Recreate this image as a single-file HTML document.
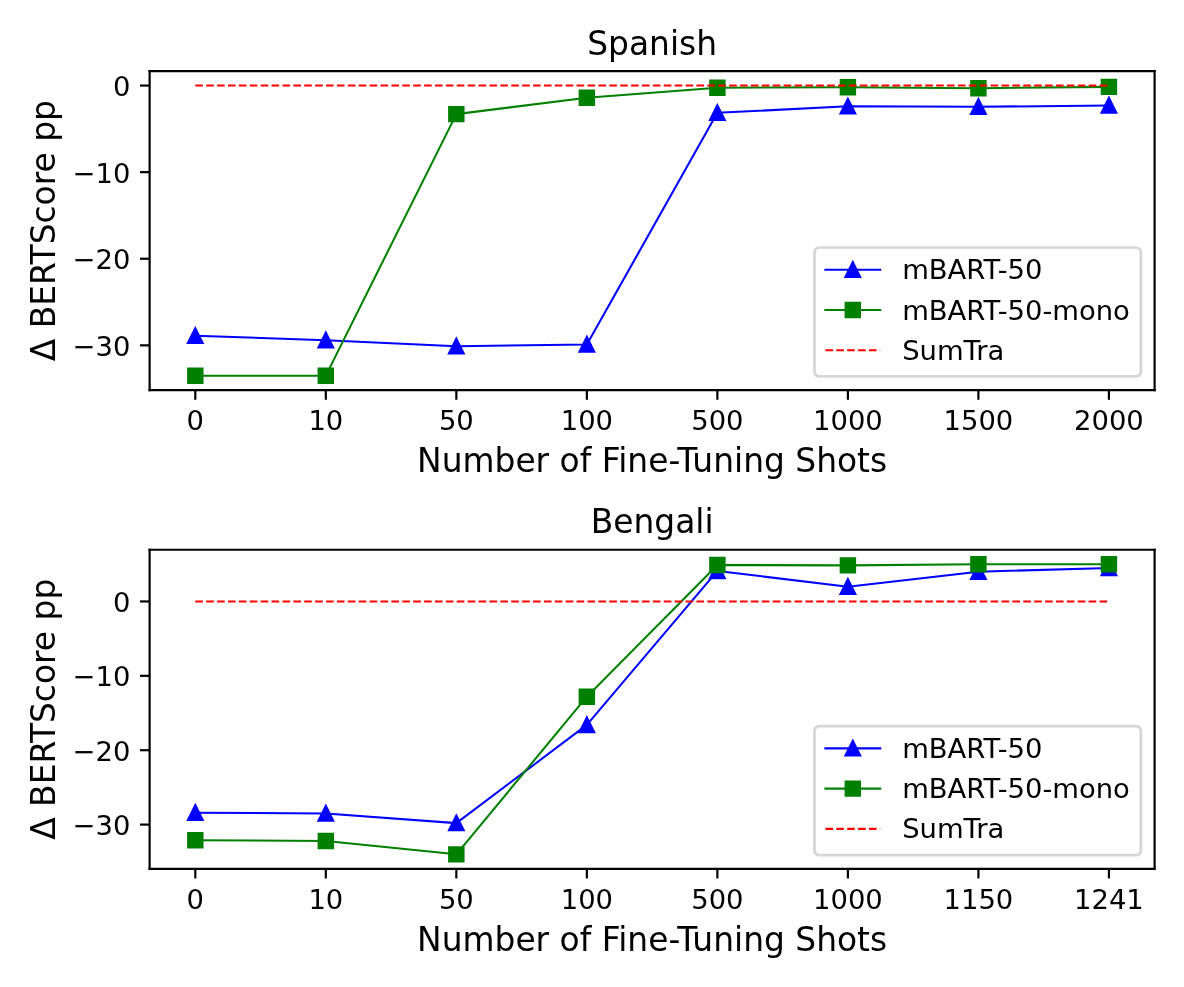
<!DOCTYPE html>
<html><head><meta charset="utf-8"><title>Fine-Tuning Shots</title>
<style>
html,body{margin:0;padding:0;background:#fff;}
body{width:1184px;height:987px;overflow:hidden;font-family:"DejaVu Sans","Liberation Sans",sans-serif;}
svg{display:block;}
svg text{font-family:"DejaVu Sans","Liberation Sans",sans-serif;}
</style></head><body>
<svg width="1184" height="987" preserveAspectRatio="none" viewBox="0 0 432 360" version="1.1">
 <defs>
  <style type="text/css">*{stroke-linejoin: round; stroke-linecap: butt}</style>
 </defs>
 <g id="figure_1" transform="translate(0.073 0)">
  <g id="patch_1">
   <path d="M 0 360 
L 432 360 
L 432 0 
L 0 0 
z
" style="fill: #ffffff"/>
  </g>
  <g id="axes_1">
   <g id="patch_2">
    <path d="M 54.518437 142.308125 
L 421.2 142.308125 
L 421.2 25.918125 
L 54.518437 25.918125 
z
" style="fill: #ffffff"/>
   </g>
   <g id="matplotlib.axis_1">
    <g id="xtick_1">
     <g id="line2d_1">
      <defs>
       <path id="m48aea42e91" d="M 0 0 
L 0 3.5 
" style="stroke: #000000; stroke-width: 0.8"/>
      </defs>
      <g>
       <use href="#m48aea42e91" x="71.185781" y="142.308125" style="stroke: #000000; stroke-width: 0.8"/>
      </g>
     </g>
     <g id="text_1">
      <text style="font-size: 10px; font-family: 'DejaVu Sans', 'Liberation Sans', sans-serif; text-anchor: middle" x="71.185781" y="156.906563">0</text>
     </g>
    </g>
    <g id="xtick_2">
     <g id="line2d_2">
      <g>
       <use href="#m48aea42e91" x="118.806763" y="142.308125" style="stroke: #000000; stroke-width: 0.8"/>
      </g>
     </g>
     <g id="text_2">
      <text style="font-size: 10px; font-family: 'DejaVu Sans', 'Liberation Sans', sans-serif; text-anchor: middle" x="118.806763" y="156.906563">10</text>
     </g>
    </g>
    <g id="xtick_3">
     <g id="line2d_3">
      <g>
       <use href="#m48aea42e91" x="166.427746" y="142.308125" style="stroke: #000000; stroke-width: 0.8"/>
      </g>
     </g>
     <g id="text_3">
      <text style="font-size: 10px; font-family: 'DejaVu Sans', 'Liberation Sans', sans-serif; text-anchor: middle" x="166.427746" y="156.906563">50</text>
     </g>
    </g>
    <g id="xtick_4">
     <g id="line2d_4">
      <g>
       <use href="#m48aea42e91" x="214.048728" y="142.308125" style="stroke: #000000; stroke-width: 0.8"/>
      </g>
     </g>
     <g id="text_4">
      <text style="font-size: 10px; font-family: 'DejaVu Sans', 'Liberation Sans', sans-serif; text-anchor: middle" x="214.048728" y="156.906563">100</text>
     </g>
    </g>
    <g id="xtick_5">
     <g id="line2d_5">
      <g>
       <use href="#m48aea42e91" x="261.66971" y="142.308125" style="stroke: #000000; stroke-width: 0.8"/>
      </g>
     </g>
     <g id="text_5">
      <text style="font-size: 10px; font-family: 'DejaVu Sans', 'Liberation Sans', sans-serif; text-anchor: middle" x="261.66971" y="156.906563">500</text>
     </g>
    </g>
    <g id="xtick_6">
     <g id="line2d_6">
      <g>
       <use href="#m48aea42e91" x="309.290692" y="142.308125" style="stroke: #000000; stroke-width: 0.8"/>
      </g>
     </g>
     <g id="text_6">
      <text style="font-size: 10px; font-family: 'DejaVu Sans', 'Liberation Sans', sans-serif; text-anchor: middle" x="309.290692" y="156.906563">1000</text>
     </g>
    </g>
    <g id="xtick_7">
     <g id="line2d_7">
      <g>
       <use href="#m48aea42e91" x="356.911674" y="142.308125" style="stroke: #000000; stroke-width: 0.8"/>
      </g>
     </g>
     <g id="text_7">
      <text style="font-size: 10px; font-family: 'DejaVu Sans', 'Liberation Sans', sans-serif; text-anchor: middle" x="356.911674" y="156.906563">1500</text>
     </g>
    </g>
    <g id="xtick_8">
     <g id="line2d_8">
      <g>
       <use href="#m48aea42e91" x="404.532656" y="142.308125" style="stroke: #000000; stroke-width: 0.8"/>
      </g>
     </g>
     <g id="text_8">
      <text style="font-size: 10px; font-family: 'DejaVu Sans', 'Liberation Sans', sans-serif; text-anchor: middle" x="404.532656" y="156.906563">2000</text>
     </g>
    </g>
    <g id="text_9">
     <text style="font-size: 12px; font-family: 'DejaVu Sans', 'Liberation Sans', sans-serif; text-anchor: middle" x="237.859219" y="172.104375">Number of Fine-Tuning Shots</text>
    </g>
   </g>
   <g id="matplotlib.axis_2">
    <g id="ytick_1">
     <g id="line2d_9">
      <defs>
       <path id="me0df4f3717" d="M 0 0 
L -3.5 0 
" style="stroke: #000000; stroke-width: 0.8"/>
      </defs>
      <g>
       <use href="#me0df4f3717" x="54.518437" y="125.962989" style="stroke: #000000; stroke-width: 0.8"/>
      </g>
     </g>
     <g id="text_10">
      <text style="font-size: 10px; font-family: 'DejaVu Sans', 'Liberation Sans', sans-serif; text-anchor: end" x="47.518437" y="129.762208">−30</text>
     </g>
    </g>
    <g id="ytick_2">
     <g id="line2d_10">
      <g>
       <use href="#me0df4f3717" x="54.518437" y="94.378186" style="stroke: #000000; stroke-width: 0.8"/>
      </g>
     </g>
     <g id="text_11">
      <text style="font-size: 10px; font-family: 'DejaVu Sans', 'Liberation Sans', sans-serif; text-anchor: end" x="47.518437" y="98.177405">−20</text>
     </g>
    </g>
    <g id="ytick_3">
     <g id="line2d_11">
      <g>
       <use href="#me0df4f3717" x="54.518437" y="62.793383" style="stroke: #000000; stroke-width: 0.8"/>
      </g>
     </g>
     <g id="text_12">
      <text style="font-size: 10px; font-family: 'DejaVu Sans', 'Liberation Sans', sans-serif; text-anchor: end" x="47.518437" y="66.592602">−10</text>
     </g>
    </g>
    <g id="ytick_4">
     <g id="line2d_12">
      <g>
       <use href="#me0df4f3717" x="54.518437" y="31.20858" style="stroke: #000000; stroke-width: 0.8"/>
      </g>
     </g>
     <g id="text_13">
      <text style="font-size: 10px; font-family: 'DejaVu Sans', 'Liberation Sans', sans-serif; text-anchor: end" x="47.518437" y="35.007798">0</text>
     </g>
    </g>
    <g id="text_14">
     <text style="font-size: 12px; font-family: 'DejaVu Sans', 'Liberation Sans', sans-serif; text-anchor: middle" x="19.918125" y="84.113125" transform="rotate(-90 19.918125 84.113125)">Δ BERTScore pp</text>
    </g>
   </g>
   <g id="line2d_13">
    <path d="M 71.185781 122.488661 
L 118.806763 124.067901 
L 166.427746 126.278837 
L 214.048728 125.647141 
L 261.66971 41.157793 
L 309.290692 38.788932 
L 356.911674 38.946856 
L 404.532656 38.473084 
" style="fill: none; stroke: #0000ff; stroke-width: 0.75; stroke-linecap: square"/>
    <defs>
     <path id="m319e83b597" d="M 0 -2.5 
L -2.5 2.5 
L 2.5 2.5 
z
" style="stroke: #0000ff; stroke-linejoin: miter"/>
    </defs>
    <g>
     <use href="#m319e83b597" x="71.185781" y="122.488661" style="fill: #0000ff; stroke: #0000ff; stroke-linejoin: miter"/>
     <use href="#m319e83b597" x="118.806763" y="124.067901" style="fill: #0000ff; stroke: #0000ff; stroke-linejoin: miter"/>
     <use href="#m319e83b597" x="166.427746" y="126.278837" style="fill: #0000ff; stroke: #0000ff; stroke-linejoin: miter"/>
     <use href="#m319e83b597" x="214.048728" y="125.647141" style="fill: #0000ff; stroke: #0000ff; stroke-linejoin: miter"/>
     <use href="#m319e83b597" x="261.66971" y="41.157793" style="fill: #0000ff; stroke: #0000ff; stroke-linejoin: miter"/>
     <use href="#m319e83b597" x="309.290692" y="38.788932" style="fill: #0000ff; stroke: #0000ff; stroke-linejoin: miter"/>
     <use href="#m319e83b597" x="356.911674" y="38.946856" style="fill: #0000ff; stroke: #0000ff; stroke-linejoin: miter"/>
     <use href="#m319e83b597" x="404.532656" y="38.473084" style="fill: #0000ff; stroke: #0000ff; stroke-linejoin: miter"/>
    </g>
   </g>
   <g id="line2d_14">
    <path d="M 71.185781 137.01767 
L 118.806763 137.01767 
L 166.427746 41.631565 
L 214.048728 35.630452 
L 261.66971 31.9982 
L 309.290692 31.840276 
L 356.911674 32.156124 
L 404.532656 31.682352 
" style="fill: none; stroke: #008000; stroke-width: 0.75; stroke-linecap: square"/>
    <defs>
     <path id="ma105472f39" d="M -2.5 2.5 
L 2.5 2.5 
L 2.5 -2.5 
L -2.5 -2.5 
z
" style="stroke: #008000; stroke-linejoin: miter"/>
    </defs>
    <g>
     <use href="#ma105472f39" x="71.185781" y="137.01767" style="fill: #008000; stroke: #008000; stroke-linejoin: miter"/>
     <use href="#ma105472f39" x="118.806763" y="137.01767" style="fill: #008000; stroke: #008000; stroke-linejoin: miter"/>
     <use href="#ma105472f39" x="166.427746" y="41.631565" style="fill: #008000; stroke: #008000; stroke-linejoin: miter"/>
     <use href="#ma105472f39" x="214.048728" y="35.630452" style="fill: #008000; stroke: #008000; stroke-linejoin: miter"/>
     <use href="#ma105472f39" x="261.66971" y="31.9982" style="fill: #008000; stroke: #008000; stroke-linejoin: miter"/>
     <use href="#ma105472f39" x="309.290692" y="31.840276" style="fill: #008000; stroke: #008000; stroke-linejoin: miter"/>
     <use href="#ma105472f39" x="356.911674" y="32.156124" style="fill: #008000; stroke: #008000; stroke-linejoin: miter"/>
     <use href="#ma105472f39" x="404.532656" y="31.682352" style="fill: #008000; stroke: #008000; stroke-linejoin: miter"/>
    </g>
   </g>
   <g id="line2d_15">
    <path d="M 71.185781 31.20858 
L 118.806763 31.20858 
L 166.427746 31.20858 
L 214.048728 31.20858 
L 261.66971 31.20858 
L 309.290692 31.20858 
L 356.911674 31.20858 
L 404.532656 31.20858 
" style="fill: none; stroke-dasharray: 2.775,1.2; stroke-dashoffset: 0; stroke: #ff0000; stroke-width: 0.75"/>
   </g>
   <g id="patch_3">
    <path d="M 54.518437 142.308125 
L 54.518437 25.918125 
" style="fill: none; stroke: #000000; stroke-width: 0.8; stroke-linejoin: miter; stroke-linecap: square"/>
   </g>
   <g id="patch_4">
    <path d="M 421.2 142.308125 
L 421.2 25.918125 
" style="fill: none; stroke: #000000; stroke-width: 0.8; stroke-linejoin: miter; stroke-linecap: square"/>
   </g>
   <g id="patch_5">
    <path d="M 54.518437 142.308125 
L 421.2 142.308125 
" style="fill: none; stroke: #000000; stroke-width: 0.8; stroke-linejoin: miter; stroke-linecap: square"/>
   </g>
   <g id="patch_6">
    <path d="M 54.518437 25.918125 
L 421.2 25.918125 
" style="fill: none; stroke: #000000; stroke-width: 0.8; stroke-linejoin: miter; stroke-linecap: square"/>
   </g>
   <g id="text_15">
    <text style="font-size: 12px; font-family: 'DejaVu Sans', 'Liberation Sans', sans-serif; text-anchor: middle" x="237.859219" y="19.918125">Spanish</text>
   </g>
   <g id="legend_1">
    <g id="patch_7">
     <path d="M 299.082812 137.308125 
L 414.2 137.308125 
Q 416.2 137.308125 416.2 135.308125 
L 416.2 92.27375 
Q 416.2 90.27375 414.2 90.27375 
L 299.082812 90.27375 
Q 297.082812 90.27375 297.082812 92.27375 
L 297.082812 135.308125 
Q 297.082812 137.308125 299.082812 137.308125 
z
" style="fill: #ffffff; opacity: 0.8; stroke: #cccccc; stroke-linejoin: miter"/>
    </g>
    <g id="line2d_16">
     <path d="M 301.082812 98.372187 
L 311.082812 98.372187 
L 321.082812 98.372187 
" style="fill: none; stroke: #0000ff; stroke-width: 0.75; stroke-linecap: square"/>
     <g>
      <use href="#m319e83b597" x="311.082812" y="98.372187" style="fill: #0000ff; stroke: #0000ff; stroke-linejoin: miter"/>
     </g>
    </g>
    <g id="text_16">
     <text style="font-size: 10px; font-family: 'DejaVu Sans', 'Liberation Sans', sans-serif; text-anchor: start" x="329.082812" y="101.872187">mBART-50</text>
    </g>
    <g id="line2d_17">
     <path d="M 301.082812 113.050312 
L 311.082812 113.050312 
L 321.082812 113.050312 
" style="fill: none; stroke: #008000; stroke-width: 0.75; stroke-linecap: square"/>
     <g>
      <use href="#ma105472f39" x="311.082812" y="113.050312" style="fill: #008000; stroke: #008000; stroke-linejoin: miter"/>
     </g>
    </g>
    <g id="text_17">
     <text style="font-size: 10px; font-family: 'DejaVu Sans', 'Liberation Sans', sans-serif; text-anchor: start" x="329.082812" y="116.550312">mBART-50-mono</text>
    </g>
    <g id="line2d_18">
     <path d="M 301.082812 127.728437 
L 311.082812 127.728437 
L 321.082812 127.728437 
" style="fill: none; stroke-dasharray: 2.775,1.2; stroke-dashoffset: 0; stroke: #ff0000; stroke-width: 0.75"/>
    </g>
    <g id="text_18">
     <text style="font-size: 10px; font-family: 'DejaVu Sans', 'Liberation Sans', sans-serif; text-anchor: start" x="329.082812" y="131.228437">SumTra</text>
    </g>
   </g>
  </g>
  <g id="axes_2">
   <g id="patch_8">
    <path d="M 54.518437 316.908125 
L 421.2 316.908125 
L 421.2 200.518125 
L 54.518437 200.518125 
z
" style="fill: #ffffff"/>
   </g>
   <g id="matplotlib.axis_3">
    <g id="xtick_9">
     <g id="line2d_19">
      <g>
       <use href="#m48aea42e91" x="71.185781" y="316.908125" style="stroke: #000000; stroke-width: 0.8"/>
      </g>
     </g>
     <g id="text_19">
      <text style="font-size: 10px; font-family: 'DejaVu Sans', 'Liberation Sans', sans-serif; text-anchor: middle" x="71.185781" y="331.506562">0</text>
     </g>
    </g>
    <g id="xtick_10">
     <g id="line2d_20">
      <g>
       <use href="#m48aea42e91" x="118.806763" y="316.908125" style="stroke: #000000; stroke-width: 0.8"/>
      </g>
     </g>
     <g id="text_20">
      <text style="font-size: 10px; font-family: 'DejaVu Sans', 'Liberation Sans', sans-serif; text-anchor: middle" x="118.806763" y="331.506562">10</text>
     </g>
    </g>
    <g id="xtick_11">
     <g id="line2d_21">
      <g>
       <use href="#m48aea42e91" x="166.427746" y="316.908125" style="stroke: #000000; stroke-width: 0.8"/>
      </g>
     </g>
     <g id="text_21">
      <text style="font-size: 10px; font-family: 'DejaVu Sans', 'Liberation Sans', sans-serif; text-anchor: middle" x="166.427746" y="331.506562">50</text>
     </g>
    </g>
    <g id="xtick_12">
     <g id="line2d_22">
      <g>
       <use href="#m48aea42e91" x="214.048728" y="316.908125" style="stroke: #000000; stroke-width: 0.8"/>
      </g>
     </g>
     <g id="text_22">
      <text style="font-size: 10px; font-family: 'DejaVu Sans', 'Liberation Sans', sans-serif; text-anchor: middle" x="214.048728" y="331.506562">100</text>
     </g>
    </g>
    <g id="xtick_13">
     <g id="line2d_23">
      <g>
       <use href="#m48aea42e91" x="261.66971" y="316.908125" style="stroke: #000000; stroke-width: 0.8"/>
      </g>
     </g>
     <g id="text_23">
      <text style="font-size: 10px; font-family: 'DejaVu Sans', 'Liberation Sans', sans-serif; text-anchor: middle" x="261.66971" y="331.506562">500</text>
     </g>
    </g>
    <g id="xtick_14">
     <g id="line2d_24">
      <g>
       <use href="#m48aea42e91" x="309.290692" y="316.908125" style="stroke: #000000; stroke-width: 0.8"/>
      </g>
     </g>
     <g id="text_24">
      <text style="font-size: 10px; font-family: 'DejaVu Sans', 'Liberation Sans', sans-serif; text-anchor: middle" x="309.290692" y="331.506562">1000</text>
     </g>
    </g>
    <g id="xtick_15">
     <g id="line2d_25">
      <g>
       <use href="#m48aea42e91" x="356.911674" y="316.908125" style="stroke: #000000; stroke-width: 0.8"/>
      </g>
     </g>
     <g id="text_25">
      <text style="font-size: 10px; font-family: 'DejaVu Sans', 'Liberation Sans', sans-serif; text-anchor: middle" x="356.911674" y="331.506562">1150</text>
     </g>
    </g>
    <g id="xtick_16">
     <g id="line2d_26">
      <g>
       <use href="#m48aea42e91" x="404.532656" y="316.908125" style="stroke: #000000; stroke-width: 0.8"/>
      </g>
     </g>
     <g id="text_26">
      <text style="font-size: 10px; font-family: 'DejaVu Sans', 'Liberation Sans', sans-serif; text-anchor: middle" x="404.532656" y="331.506562">1241</text>
     </g>
    </g>
    <g id="text_27">
     <text style="font-size: 12px; font-family: 'DejaVu Sans', 'Liberation Sans', sans-serif; text-anchor: middle" x="237.859219" y="346.704375">Number of Fine-Tuning Shots</text>
    </g>
   </g>
   <g id="matplotlib.axis_4">
    <g id="ytick_5">
     <g id="line2d_27">
      <g>
       <use href="#me0df4f3717" x="54.518437" y="300.765456" style="stroke: #000000; stroke-width: 0.8"/>
      </g>
     </g>
     <g id="text_28">
      <text style="font-size: 10px; font-family: 'DejaVu Sans', 'Liberation Sans', sans-serif; text-anchor: end" x="47.518437" y="304.564675">−30</text>
     </g>
    </g>
    <g id="ytick_6">
     <g id="line2d_28">
      <g>
       <use href="#me0df4f3717" x="54.518437" y="273.63492" style="stroke: #000000; stroke-width: 0.8"/>
      </g>
     </g>
     <g id="text_29">
      <text style="font-size: 10px; font-family: 'DejaVu Sans', 'Liberation Sans', sans-serif; text-anchor: end" x="47.518437" y="277.434139">−20</text>
     </g>
    </g>
    <g id="ytick_7">
     <g id="line2d_29">
      <g>
       <use href="#me0df4f3717" x="54.518437" y="246.504384" style="stroke: #000000; stroke-width: 0.8"/>
      </g>
     </g>
     <g id="text_30">
      <text style="font-size: 10px; font-family: 'DejaVu Sans', 'Liberation Sans', sans-serif; text-anchor: end" x="47.518437" y="250.303602">−10</text>
     </g>
    </g>
    <g id="ytick_8">
     <g id="line2d_30">
      <g>
       <use href="#me0df4f3717" x="54.518437" y="219.373848" style="stroke: #000000; stroke-width: 0.8"/>
      </g>
     </g>
     <g id="text_31">
      <text style="font-size: 10px; font-family: 'DejaVu Sans', 'Liberation Sans', sans-serif; text-anchor: end" x="47.518437" y="223.173066">0</text>
     </g>
    </g>
    <g id="text_32">
     <text style="font-size: 12px; font-family: 'DejaVu Sans', 'Liberation Sans', sans-serif; text-anchor: middle" x="19.918125" y="258.713125" transform="rotate(-90 19.918125 258.713125)">Δ BERTScore pp</text>
    </g>
   </g>
   <g id="line2d_31">
    <path d="M 71.185781 296.42457 
L 118.806763 296.695876 
L 166.427746 300.222845 
L 214.048728 264.410538 
L 261.66971 208.250328 
L 309.290692 214.002001 
L 356.911674 208.521633 
L 404.532656 207.165106 
" style="fill: none; stroke: #0000ff; stroke-width: 0.75; stroke-linecap: square"/>
    <g>
     <use href="#m319e83b597" x="71.185781" y="296.42457" style="fill: #0000ff; stroke: #0000ff; stroke-linejoin: miter"/>
     <use href="#m319e83b597" x="118.806763" y="296.695876" style="fill: #0000ff; stroke: #0000ff; stroke-linejoin: miter"/>
     <use href="#m319e83b597" x="166.427746" y="300.222845" style="fill: #0000ff; stroke: #0000ff; stroke-linejoin: miter"/>
     <use href="#m319e83b597" x="214.048728" y="264.410538" style="fill: #0000ff; stroke: #0000ff; stroke-linejoin: miter"/>
     <use href="#m319e83b597" x="261.66971" y="208.250328" style="fill: #0000ff; stroke: #0000ff; stroke-linejoin: miter"/>
     <use href="#m319e83b597" x="309.290692" y="214.002001" style="fill: #0000ff; stroke: #0000ff; stroke-linejoin: miter"/>
     <use href="#m319e83b597" x="356.911674" y="208.521633" style="fill: #0000ff; stroke: #0000ff; stroke-linejoin: miter"/>
     <use href="#m319e83b597" x="404.532656" y="207.165106" style="fill: #0000ff; stroke: #0000ff; stroke-linejoin: miter"/>
    </g>
   </g>
   <g id="line2d_32">
    <path d="M 71.185781 306.462869 
L 118.806763 306.734174 
L 166.427746 311.61767 
L 214.048728 254.100934 
L 261.66971 206.079885 
L 309.290692 206.215538 
L 356.911674 205.80858 
L 404.532656 205.80858 
" style="fill: none; stroke: #008000; stroke-width: 0.75; stroke-linecap: square"/>
    <g>
     <use href="#ma105472f39" x="71.185781" y="306.462869" style="fill: #008000; stroke: #008000; stroke-linejoin: miter"/>
     <use href="#ma105472f39" x="118.806763" y="306.734174" style="fill: #008000; stroke: #008000; stroke-linejoin: miter"/>
     <use href="#ma105472f39" x="166.427746" y="311.61767" style="fill: #008000; stroke: #008000; stroke-linejoin: miter"/>
     <use href="#ma105472f39" x="214.048728" y="254.100934" style="fill: #008000; stroke: #008000; stroke-linejoin: miter"/>
     <use href="#ma105472f39" x="261.66971" y="206.079885" style="fill: #008000; stroke: #008000; stroke-linejoin: miter"/>
     <use href="#ma105472f39" x="309.290692" y="206.215538" style="fill: #008000; stroke: #008000; stroke-linejoin: miter"/>
     <use href="#ma105472f39" x="356.911674" y="205.80858" style="fill: #008000; stroke: #008000; stroke-linejoin: miter"/>
     <use href="#ma105472f39" x="404.532656" y="205.80858" style="fill: #008000; stroke: #008000; stroke-linejoin: miter"/>
    </g>
   </g>
   <g id="line2d_33">
    <path d="M 71.185781 219.373848 
L 118.806763 219.373848 
L 166.427746 219.373848 
L 214.048728 219.373848 
L 261.66971 219.373848 
L 309.290692 219.373848 
L 356.911674 219.373848 
L 404.532656 219.373848 
" style="fill: none; stroke-dasharray: 2.775,1.2; stroke-dashoffset: 0; stroke: #ff0000; stroke-width: 0.75"/>
   </g>
   <g id="patch_9">
    <path d="M 54.518437 316.908125 
L 54.518437 200.518125 
" style="fill: none; stroke: #000000; stroke-width: 0.8; stroke-linejoin: miter; stroke-linecap: square"/>
   </g>
   <g id="patch_10">
    <path d="M 421.2 316.908125 
L 421.2 200.518125 
" style="fill: none; stroke: #000000; stroke-width: 0.8; stroke-linejoin: miter; stroke-linecap: square"/>
   </g>
   <g id="patch_11">
    <path d="M 54.518437 316.908125 
L 421.2 316.908125 
" style="fill: none; stroke: #000000; stroke-width: 0.8; stroke-linejoin: miter; stroke-linecap: square"/>
   </g>
   <g id="patch_12">
    <path d="M 54.518437 200.518125 
L 421.2 200.518125 
" style="fill: none; stroke: #000000; stroke-width: 0.8; stroke-linejoin: miter; stroke-linecap: square"/>
   </g>
   <g id="text_33">
    <text style="font-size: 12px; font-family: 'DejaVu Sans', 'Liberation Sans', sans-serif; text-anchor: middle" x="237.859219" y="194.518125">Bengali</text>
   </g>
   <g id="legend_2">
    <g id="patch_13">
     <path d="M 299.082812 311.908125 
L 414.2 311.908125 
Q 416.2 311.908125 416.2 309.908125 
L 416.2 266.87375 
Q 416.2 264.87375 414.2 264.87375 
L 299.082812 264.87375 
Q 297.082812 264.87375 297.082812 266.87375 
L 297.082812 309.908125 
Q 297.082812 311.908125 299.082812 311.908125 
z
" style="fill: #ffffff; opacity: 0.8; stroke: #cccccc; stroke-linejoin: miter"/>
    </g>
    <g id="line2d_34">
     <path d="M 301.082812 272.972188 
L 311.082812 272.972188 
L 321.082812 272.972188 
" style="fill: none; stroke: #0000ff; stroke-width: 0.75; stroke-linecap: square"/>
     <g>
      <use href="#m319e83b597" x="311.082812" y="272.972188" style="fill: #0000ff; stroke: #0000ff; stroke-linejoin: miter"/>
     </g>
    </g>
    <g id="text_34">
     <text style="font-size: 10px; font-family: 'DejaVu Sans', 'Liberation Sans', sans-serif; text-anchor: start" x="329.082812" y="276.472188">mBART-50</text>
    </g>
    <g id="line2d_35">
     <path d="M 301.082812 287.650312 
L 311.082812 287.650312 
L 321.082812 287.650312 
" style="fill: none; stroke: #008000; stroke-width: 0.75; stroke-linecap: square"/>
     <g>
      <use href="#ma105472f39" x="311.082812" y="287.650312" style="fill: #008000; stroke: #008000; stroke-linejoin: miter"/>
     </g>
    </g>
    <g id="text_35">
     <text style="font-size: 10px; font-family: 'DejaVu Sans', 'Liberation Sans', sans-serif; text-anchor: start" x="329.082812" y="291.150312">mBART-50-mono</text>
    </g>
    <g id="line2d_36">
     <path d="M 301.082812 302.328438 
L 311.082812 302.328438 
L 321.082812 302.328438 
" style="fill: none; stroke-dasharray: 2.775,1.2; stroke-dashoffset: 0; stroke: #ff0000; stroke-width: 0.75"/>
    </g>
    <g id="text_36">
     <text style="font-size: 10px; font-family: 'DejaVu Sans', 'Liberation Sans', sans-serif; text-anchor: start" x="329.082812" y="305.828438">SumTra</text>
    </g>
   </g>
  </g>
 </g>
</svg>

</body></html>
